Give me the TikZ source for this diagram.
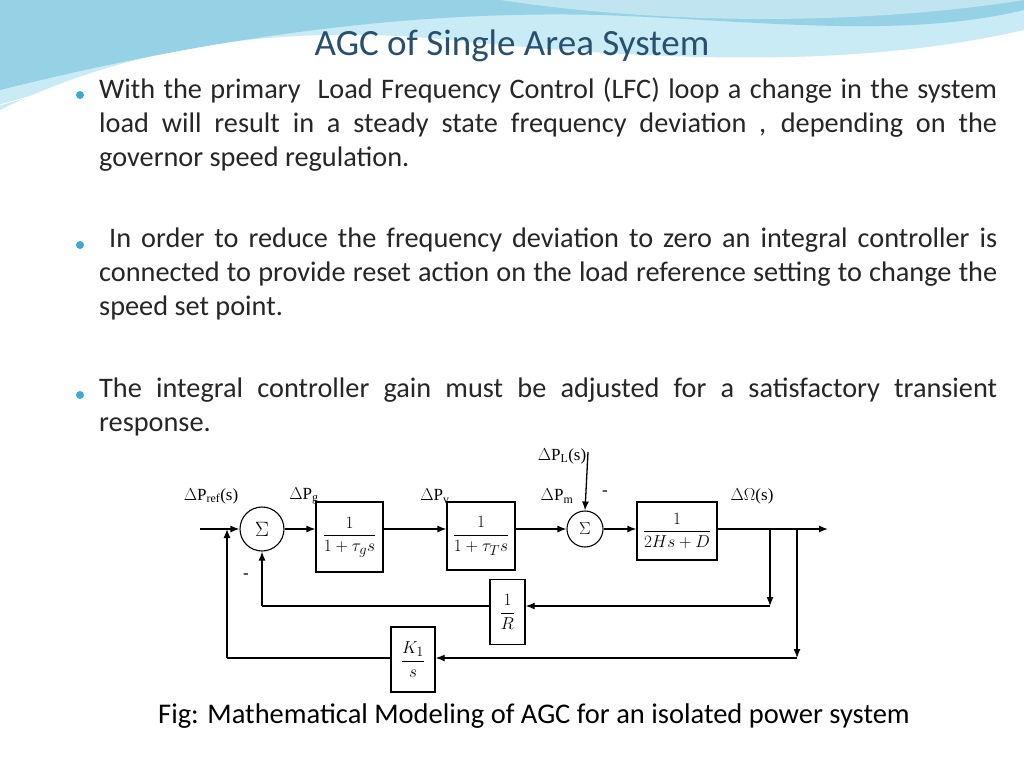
\documentclass[tikz,border=0pt]{standalone}
\usepackage{amsmath}
\usepackage{fontspec}
\setmainfont{Carlito}
\newfontfamily\tms{Liberation Serif}
\usetikzlibrary{arrows.meta}
\hyphenpenalty=10000
\exhyphenpenalty=10000
\definecolor{ttl}{RGB}{40,80,110}
\definecolor{wave1}{RGB}{150,210,230}
\definecolor{wave2}{RGB}{200,235,245}
\definecolor{bul}{RGB}{60,170,210}
\begin{document}
\begin{tikzpicture}[x=1pt,y=-1pt,
  blk/.style={draw,line width=1.3pt,minimum width=0pt,inner sep=0pt,font=\fontsize{19}{21}\selectfont},
  sumn/.style={draw,line width=1.1pt,circle,inner sep=0pt},
  lbl/.style={font=\tms\fontsize{17}{17}\selectfont},
  sig/.style={-{Latex[length=9pt,width=7pt]},line width=1.3pt},
  ln/.style={line width=1.3pt},
  btxt/.style={anchor=north west,text width=898pt,align=justify,font=\fontsize{28.3}{34}\selectfont,inner sep=0pt,text=black!85}]
\useasboundingbox (0,0) rectangle (1024,768);
\fill[white] (0,0) rectangle (1024,768);
% top wave
\fill[wave2] (0,0) -- (1024,0) -- (1024,30) .. controls (850,70) and (650,60) .. (450,40) .. controls (250,20) and (100,60) .. (0,110) -- cycle;
\fill[wave1] (0,0) -- (1024,0) -- (1024,10) .. controls (900,40) and (750,20) .. (600,15) .. controls (400,10) and (200,40) .. (0,90) -- cycle;
\fill[wave1!60!white] (500,0) -- (1024,0) -- (1024,0) .. controls (900,20) and (700,30) .. (500,0) -- cycle;
\draw[white,thick] (0,105) .. controls (150,60) and (350,40) .. (600,60) .. controls (800,75) and (950,55) .. (1024,40);
\node[font=\fontsize{37}{37}\selectfont,text=ttl] (title) at (512,46) {AGC of Single Area System};
% bullets
\foreach \y in {95,245,395} \fill[bul] (80,\y) circle (4);
\node[btxt] (b1) at (99,78) {With the primary\ \ Load Frequency Control (LFC) loop a change in the system load will result in a steady state frequency deviation , depending on the governor speed regulation.};
\node[btxt] (b2) at (99,228) {\ In order to reduce the frequency deviation to zero an integral controller is connected to provide reset action on the load reference setting to change the speed set point.};
\node[btxt] (b3) at (99,378) {The integral controller gain must be adjusted for a satisfactory transient response.};
% diagram
\node[sumn,minimum size=44pt] (s1) at (262,529) {\fontsize{22}{22}\selectfont$\Sigma$};
\node[blk,minimum width=67pt,minimum height=70pt] (g1) at (349.5,537) {$\dfrac{1}{1+\tau_g s}$};
\node[blk,minimum width=68pt,minimum height=68pt] (g2) at (481,536) {$\dfrac{1}{1+\tau_T s}$};
\node[sumn,minimum size=36pt] (s2) at (585,529) {\fontsize{17}{17}\selectfont$\Sigma$};
\node[blk,minimum width=80pt,minimum height=58pt] (g3) at (677,531) {$\dfrac{1}{2Hs+D}$};
\node[blk,minimum width=35pt,minimum height=65pt] (r) at (507.5,612) {$\dfrac{1}{R}$};
\node[blk,minimum width=44pt,minimum height=65pt] (k) at (413,659.5) {$\dfrac{K_1}{s}$};
\coordinate (in) at (200,529);
\coordinate (j0) at (227,529);
\coordinate (out) at (828,529);
\coordinate (b1c) at (770,529);
\coordinate (b2c) at (797,529);
\coordinate (b1e) at (770,606);
\coordinate (b2e) at (797,658);
\coordinate (pl) at (588,452);
\draw[sig] (in) -- (s1);
\draw[sig] (s1) -- (g1.west |- s1);
\draw[sig] (g1.east |- s1) -- (g2.west |- s1);
\draw[sig] (g2.east |- s1) -- (s2.west);
\draw[sig] (s2) -- (g3.west |- s2);
\draw[sig] (g3.east |- s2) -- (out);
\draw[sig] (pl) -- (s2.north);
\draw[sig] (b1c) -- (b1e);
\draw[sig] (b2c) -- (b2e);
\draw[sig] (b1e) -- (r.east |- b1e);
\draw[sig] (b2e) -- (k.east |- b2e);
\draw[ln] (r.west |- b1e) -- (262,606);
\draw[sig] (262,606) -- (s1.south);
\draw[ln] (k.west |- b2e) -- (227,658);
\draw[sig] (227,658) -- (j0);
\node[lbl] (l1) at (211,496) {$\Delta$P\textsubscript{ref}(s)};
\node[lbl] (l2) at (304,496) {$\Delta$P\textsubscript{g}};
\node[lbl] (l3) at (435,496) {$\Delta$P\textsubscript{v}};
\node[lbl] (l4) at (557,496) {$\Delta$P\textsubscript{m}};
\node[lbl] (l5) at (562,456) {$\Delta$P\textsubscript{L}(s)};
\node[lbl] (l6) at (752,496) {$\Delta\Omega$(s)};
\node[lbl] (m1) at (605,493) {-};
\node[lbl] (m2) at (246,576) {-};
\node[font=\fontsize{28.5}{28.5}\selectfont] (cap) at (534,716) {Fig: Mathematical Modeling of AGC for an isolated power system};
\end{tikzpicture}
\end{document}
